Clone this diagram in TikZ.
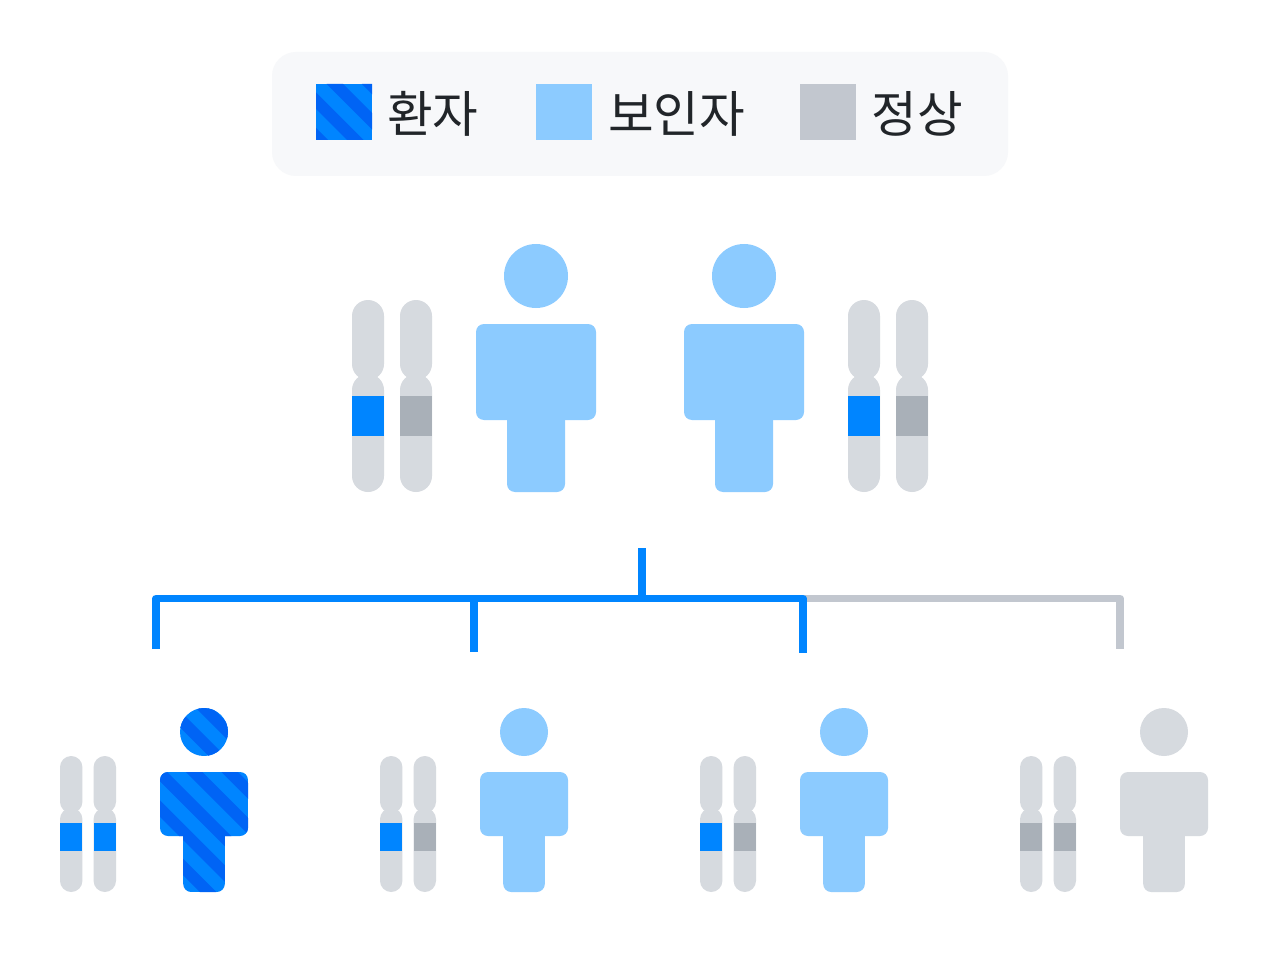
\documentclass[tikz,border=0pt]{standalone}
\usepackage{fontspec}
\newfontfamily\krfont{Noto Sans CJK KR}
\definecolor{cblue}{HTML}{0085FF}
\definecolor{cdark}{HTML}{0064F5}
\definecolor{clight}{HTML}{8CCBFF}
\definecolor{cchromo}{HTML}{D6DADF}
\definecolor{cband}{HTML}{A9B0B8}
\definecolor{cnormal}{HTML}{C2C7CF}
\definecolor{cpanel}{HTML}{F7F8FA}
\definecolor{ctext}{HTML}{212529}
\tikzset{
  legendlabel/.style={font=\krfont\fontsize{49.6}{50}\selectfont,text=ctext,anchor=base west,inner sep=0pt,outer sep=0pt},
  bluewire/.style={draw=cblue,line width=7.6pt,line join=round},
  greywire/.style={draw=cnormal,line width=7.6pt,line join=round},
}
% dark stripes: x - y = a + k*period; #1 phase, #2 first y, #3 height, #4 first k, #5 last k
\newcommand{\stripeset}[5]{%
  \foreach \k in {#4,...,#5}{%
    \pgfmathsetmacro{\sa}{#1+\k*35.4+#2}%
    \fill[cdark] (\sa,#2) -- (\sa+16.5,#2) -- (\sa+16.5+#3,#2+#3) -- (\sa+#3,#2+#3) -- cycle;%
  }%
}
% chromosome: x, width, lobe1 top, lobe1 bottom, lobe2 top, bottom, band top, band bottom, band colour
\newcommand{\chromo}[9]{%
  \pgfmathsetmacro{\rr}{#2/2}%
  \fill[cchromo,rounded corners=\rr pt] (#1,#3) rectangle (#1+#2,#4);%
  \fill[cchromo,rounded corners=\rr pt] (#1,#5) rectangle (#1+#2,#6);%
  \fill[#9] (#1,#7) rectangle (#1+#2,#8);%
}
\newcommand{\bigchromo}[2]{\chromo{#1}{32}{300}{380}{374}{492}{396}{436}{#2}}
\newcommand{\smallchromo}[2]{\chromo{#1}{22.4}{756}{813}{808}{892}{823}{851}{#2}}
\newcommand{\smallperson}[2]{%
  \fill[#2] (#1,732) circle[radius=24];%
  \fill[#2,rounded corners=8pt] (#1-44,772) rectangle (#1+44,836);%
  \fill[#2,rounded corners=8pt] (#1-20.8,816) rectangle (#1+20.8,892);%
}
\begin{document}
\begin{tikzpicture}[x=1pt,y=-1pt]
\useasboundingbox (0,0) rectangle (1280,960);
\fill[white] (0,0) rectangle (1280,960);
% legend
\fill[cpanel,rounded corners=24pt] (272,52) rectangle (1008,176);
\begin{scope}
  \clip (316,84) rectangle (372,140);
  \fill[cblue] (316,84) rectangle (372,140);
  \stripeset{242.5}{84}{56}{-3}{2}
\end{scope}
\fill[clight] (536,84) rectangle (592,140);
\fill[cnormal] (800,84) rectangle (856,140);
\node[legendlabel] (patient) at (387,133) {환자};
\node[legendlabel] (carrier) at (608,133) {보인자};
\node[legendlabel] (normal) at (871.5,133) {정상};
% parents
\fill[clight] (536,276) circle[radius=32];
\fill[clight,rounded corners=8pt] (476,324) rectangle (596,420);
\fill[clight,rounded corners=8pt] (507,400) rectangle (565,492);
\fill[clight] (744,276) circle[radius=32];
\fill[clight,rounded corners=8pt] (684,324) rectangle (804,420);
\fill[clight,rounded corners=8pt] (715,400) rectangle (773,492);
\bigchromo{352}{cblue}
\bigchromo{400}{cband}
\bigchromo{848}{cblue}
\bigchromo{896}{cband}
% connectors
\coordinate (stemtop) at (642,548);
\coordinate (stemfoot) at (642,598.5);
\coordinate (kidA) at (156,649);
\coordinate (kidAup) at (156,598.5);
\coordinate (kidB) at (474,652);
\coordinate (kidBup) at (474,598.5);
\coordinate (kidC) at (803,653);
\coordinate (kidCup) at (803,598.5);
\coordinate (kidD) at (1120,649);
\coordinate (kidDup) at (1120,598.5);
\draw[greywire] (kidCup) -- (kidDup) -- (kidD);
\draw[bluewire] (kidA) -- (kidAup) -- (kidCup) -- (kidC);
\draw[bluewire] (kidB) -- (kidBup);
\draw[bluewire] (stemtop) -- (stemfoot);
% children: patient
\begin{scope}
  \clip (204,732) circle[radius=24];
  \fill[cblue] (180,708) rectangle (228,756);
  \stripeset{-512}{708}{48}{-3}{1}
\end{scope}
\begin{scope}
  \clip[rounded corners=8pt] (160,772) rectangle (248,836)
    (183.2,816) rectangle (224.8,892);
  \fill[cblue] (160,772) rectangle (248,892);
  \stripeset{-586}{772}{120}{-4}{2}
\end{scope}
\smallchromo{60}{cblue}
\smallchromo{93.6}{cblue}
% children: carrier
\smallperson{524}{clight}
\smallchromo{380}{cblue}
\smallchromo{413.6}{cband}
\smallperson{844}{clight}
\smallchromo{700}{cblue}
\smallchromo{733.6}{cband}
% children: normal
\smallperson{1164}{cchromo}
\smallchromo{1020}{cband}
\smallchromo{1053.6}{cband}
\end{tikzpicture}
\end{document}
